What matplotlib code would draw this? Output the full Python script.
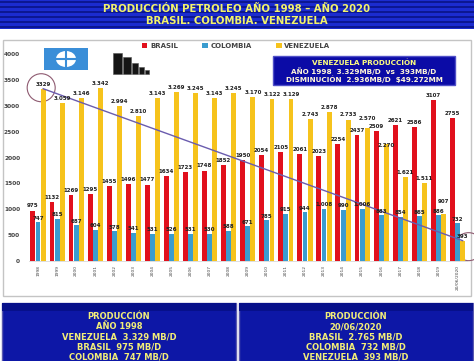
import numpy as np
import matplotlib
matplotlib.use("Agg")
import matplotlib.pyplot as plt
from matplotlib.patches import Rectangle, Ellipse

W, H = 474, 361

years = [str(y) for y in range(1998, 2020)] + ["20/06/2020"]
brasil = [975, 1132, 1269, 1295, 1455, 1496, 1477, 1634, 1723, 1748, 1852, 1950,
          2054, 2105, 2061, 2023, 2254, 2437, 2509, 2621, 2586, 3107, 2755]
colombia = [747, 815, 687, 604, 578, 541, 531, 526, 531, 530, 588, 671,
            785, 915, 944, 1008, 990, 1006, 883, 854, 865, 886, 732]
venezuela = [3329, 3059, 3146, 3342, 2994, 2810, 3143, 3269, 3245, 3143, 3245, 3170,
             3122, 3129, 2743, 2878, 2733, 2570, 2270, 1621, 1511, 907, 393]

series_names = ["BRASIL", "COLOMBIA", "VENEZUELA"]
colors = ["#e1101c", "#3a9ccf", "#f6c31c"]

title_lines = ["PRODUCCIÓN PETROLEO AÑO 1998 – AÑO 2020", "BRASIL. COLOMBIA. VENEZUELA"]
info_lines = ["VENEZUELA PRODUCCIÓN",
              "AÑO 1998  3.329MB/D  vs  393MB/D",
              "DISMINUCIÓN  2.936MB/D  $49.272MM"]
left_box = ["PRODUCCIÓN", "AÑO 1998", "VENEZUELA  3.329 MB/D",
            "BRASIL  975 MB/D", "COLOMBIA  747 MB/D"]
right_box = ["PRODUCCIÓN", "20/06/2020", "BRASIL  2.765 MB/D",
             "COLOMBIA  732 MB/D", "VENEZUELA  393 MB/D"]


def dotted(v):
    return f"{v:,}".replace(",", ".")


fig = plt.figure(figsize=(W / 100, H / 100), dpi=100)
fig.patch.set_facecolor("white")

# background layer in pixel coordinates
bg = fig.add_axes([0, 0, 1, 1])
bg.set_xlim(0, W)
bg.set_ylim(H, 0)
bg.axis("off")

# striped title band
bg.add_patch(Rectangle((0, 0), W, 29, fc="#1b2ccf", ec="none"))
for y0 in np.arange(1, 29, 5):
    bg.add_patch(Rectangle((0, y0), W, 2, fc="#0c1792", ec="none"))
for i, line in enumerate(title_lines):
    bg.text(W / 2, 9 + 12 * i, line, ha="center", va="center", fontsize=7.3,
            weight="bold", color="#f3f36a")

# chart panel
bg.add_patch(Rectangle((3, 40), 468, 256, fc="white", ec="#c4c4c4", lw=1))

# bottom boxes
for x0, lines in [(2, left_box), (239, right_box)]:
    bg.add_patch(Rectangle((x0, 303), 234, 60, fc="#0d17a6", ec="#5a5ab0", lw=1))
    bg.add_patch(Rectangle((x0, 303), 234, 8, fc="#07108a", ec="none"))
    for i, line in enumerate(lines):
        bg.text(x0 + 117, 316.5 + 10 * i, line, ha="center", va="center",
                fontsize=6, weight="bold", color="#f2ee78")

# OPEC logo
bg.add_patch(Rectangle((44, 48), 44, 22, fc="#3a8ed8", ec="none"))
bg.add_patch(Ellipse((66, 59), 20, 16, fc="white", ec="none"))
bg.plot([66, 66], [50, 68], color="#3a8ed8", lw=1.5)
bg.plot([55, 77], [59, 59], color="#3a8ed8", lw=1.5)

# oil barrels
for bx, by, bw, bh in [(113, 53, 9, 21), (123, 57, 8, 17), (132, 63, 6, 11),
                       (139, 67, 5, 7), (145, 70, 4, 4)]:
    bg.add_patch(Rectangle((bx, by), bw, bh, fc="#151515", ec="#555555", lw=0.4))

# info box
bg.add_patch(Rectangle((273, 56), 182, 29, fc="#0b0ba6", ec="#5050c8", lw=1))
for i, line in enumerate(info_lines):
    bg.text(364, 62.5 + 8.5 * i, line, ha="center", va="center", fontsize=5.2,
            weight="bold", color="#ffff80" if i == 0 else "#fff6d8")

# bar chart
ax = fig.add_axes([28.5 / W, 1 - 261 / H, (467 - 28.5) / W, (261 - 54) / H])
ax.patch.set_alpha(0)
x = np.arange(len(years))
width = 0.27
offsets = [-width, 0, width]
data = [brasil, colombia, venezuela]
handles = []
for vals, off, col, name in zip(data, offsets, colors, series_names):
    h = ax.bar(x + off, vals, width=width * 0.95, color=col, label=name)
    handles.append(h)

# label nudges (value units) where labels crowd each other
ven_lift = {17: 90, 18: -120, 21: 150}
lab_kw = dict(ha="center", va="bottom", fontsize=4.0, weight="bold", color="#222222")
for i in range(len(years)):
    ax.text(x[i] - width, brasil[i] + 40, str(brasil[i]), **lab_kw)
    ax.text(x[i], colombia[i] + 30, dotted(colombia[i]), **lab_kw)
    vlab = str(venezuela[i]) if i == 0 else dotted(venezuela[i])
    ax.text(x[i] + width, venezuela[i] + 40 + ven_lift.get(i, 0), vlab, **lab_kw)

# trend line
ax.plot([x[0] + width, x[-1] + width], [venezuela[0], venezuela[-1]],
        color="#6a5cae", lw=1)

ax.set_xlim(-0.5, len(years) - 0.5)
ax.set_ylim(0, 4000)
ax.set_yticks(np.arange(0, 4001, 500))
ax.set_xticks(x)
ax.set_xticklabels(years, rotation=90, fontsize=3.2, color="#444444")
ax.tick_params(axis="y", labelsize=4.2, colors="#444444", length=0, pad=6)
ax.tick_params(axis="x", length=0, pad=3)
for lab in ax.get_yticklabels():
    lab.set_fontweight("bold")
for s in ["top", "right", "left"]:
    ax.spines[s].set_visible(False)
ax.spines["bottom"].set_color("#d8d8d8")
ax.spines["bottom"].set_linewidth(0.6)

# circles around first and last Venezuela values
for xi, dx, dy in [(0, -2, -1), (len(years) - 1, 6, 6)]:
    px, py = ax.transData.transform((x[xi] + width, venezuela[xi]))
    bg.add_patch(Ellipse((px + dx, H - py + dy), 28, 28, fc="none",
                         ec="#8e5a70", lw=0.8, clip_on=False))

fig.legend(handles=handles, labels=series_names, loc="center",
           bbox_to_anchor=(236 / W, 1 - 46 / H), ncol=3, frameon=False,
           prop={"size": 5, "weight": "bold"}, labelcolor="#444444",
           handlelength=0.8, handleheight=0.6, columnspacing=3.5, handletextpad=0.4)

fig.savefig("out.png", dpi=100)
